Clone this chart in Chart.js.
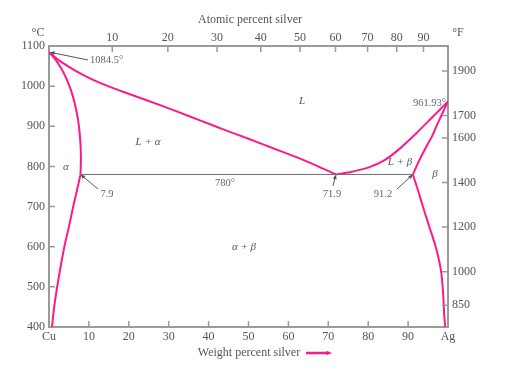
<!DOCTYPE html>
<html>
<head>
<meta charset="utf-8">
<script src="https://cdn.jsdelivr.net/npm/chart.js@4.4.0/dist/chart.umd.min.js"></script>
<style>
  html, body { margin: 0; padding: 0; background: #fff; }
</style>
</head>
<body>
<canvas id="grafico" width="517" height="372"></canvas>
<script>
// ===============================
//   DADOS (wt% Ag, °C)
// ===============================
const liquidusCuWt = [0, 2, 5, 8.5, 12.75, 18, 25, 32, 38, 44, 50, 56, 62, 67, 71.9];
const liquidusCuT  = [1084.5, 1068, 1048, 1028, 1008, 988, 963, 937, 914, 891, 869, 846, 823, 802, 780];

const liquidusAgWt = [71.9, 76, 80, 84, 88, 92, 96, 100];
const liquidusAgT  = [780, 787, 797, 815, 845, 882, 922, 961.93];

const solidusAlfaWt = [0, 1.5, 3, 4.3, 5.5, 6.5, 7.3, 7.8, 8.0, 7.9];
const solidusAlfaT  = [1084.5, 1068, 1045, 1020, 990, 955, 915, 870, 825, 780];

const solvusAlfaWt = [7.9, 7, 6, 5, 4, 3, 2, 1.3, 0.75];
const solvusAlfaT  = [780, 740, 697, 650, 607, 555, 497, 450, 400];

const solidusBetaWt = [91.2, 92.8, 94.5, 96, 97, 98.5, 100];
const solidusBetaT  = [780, 815, 848, 875, 898, 930, 961.93];

const solvusBetaWt = [91.2, 92.5, 93.5, 95.3, 97, 98.25, 98.8, 99.05, 99.3];
const solvusBetaT  = [780, 740, 707, 650, 597, 540, 480, 430, 400];

const eutecticoWt = [7.9, 91.2];
const eutecticoT  = [780, 780];

// eixos
const ticksPeso     = [0, 10, 20, 30, 40, 50, 60, 70, 80, 90, 100];
const ticksAtomico  = [10, 20, 30, 40, 50, 60, 70, 80, 90];
const ticksCelsius  = [400, 500, 600, 700, 800, 900, 1000, 1100];
const ticksFahr     = [850, 1000, 1200, 1400, 1600, 1700, 1900];

const MASSA_AG = 107.87, MASSA_CU = 63.55;
const FONTE = "'Liberation Serif', 'DejaVu Serif', serif";
const ROSA = "#fb1a8c";
const CINZA_EIXO = "#9a9a9a";
const CINZA_TEXTO = "#555";

const atomicoParaPeso = (a) => 100 * a * MASSA_AG / (a * MASSA_AG + (100 - a) * MASSA_CU);
const fParaC = (f) => (f - 32) * 5 / 9;
const pontos = (xs, ys) => xs.map((x, i) => ({ x: x, y: ys[i] }));

function curva(xs, ys, cor, larg, tensao) {
  return {
    data: pontos(xs, ys),
    borderColor: cor,
    borderWidth: larg,
    pointRadius: 0,
    showLine: true,
    tension: tensao,
    fill: false,
    xAxisID: "x",
    yAxisID: "y"
  };
}

// ===============================
//   PLUGINS
// ===============================
const ticksParaDentro = {
  id: "ticksParaDentro",
  afterDatasetsDraw(chart) {
    const { ctx, chartArea: ca, scales } = chart;
    const L = 6;
    ctx.save();
    ctx.strokeStyle = CINZA_EIXO;
    ctx.lineWidth = 1.5;
    ctx.beginPath();
    ticksPeso.filter(v => v > 0 && v < 100).forEach(v => {
      const px = scales.x.getPixelForValue(v);
      ctx.moveTo(px, ca.bottom); ctx.lineTo(px, ca.bottom - L);
    });
    ticksAtomico.forEach(a => {
      const px = scales.xTop.getPixelForValue(atomicoParaPeso(a));
      ctx.moveTo(px, ca.top); ctx.lineTo(px, ca.top + L);
    });
    ticksCelsius.filter(v => v > 400 && v < 1100).forEach(v => {
      const py = scales.y.getPixelForValue(v);
      ctx.moveTo(ca.left, py); ctx.lineTo(ca.left + L, py);
    });
    ticksFahr.forEach(f => {
      const py = scales.yF.getPixelForValue(fParaC(f));
      ctx.moveTo(ca.right, py); ctx.lineTo(ca.right - L, py);
    });
    ctx.stroke();
    ctx.restore();
  }
};

function seta(ctx, x1, y1, x2, y2, cor, larg, tam) {
  const ang = Math.atan2(y2 - y1, x2 - x1);
  ctx.strokeStyle = cor;
  ctx.fillStyle = cor;
  ctx.lineWidth = larg;
  ctx.beginPath();
  ctx.moveTo(x1, y1);
  ctx.lineTo(x2 - Math.cos(ang) * tam * 0.6, y2 - Math.sin(ang) * tam * 0.6);
  ctx.stroke();
  ctx.beginPath();
  ctx.moveTo(x2, y2);
  ctx.lineTo(x2 - tam * Math.cos(ang - 0.4), y2 - tam * Math.sin(ang - 0.4));
  ctx.lineTo(x2 - tam * Math.cos(ang + 0.4), y2 - tam * Math.sin(ang + 0.4));
  ctx.closePath();
  ctx.fill();
}

const anotacoes = {
  id: "anotacoes",
  afterDraw(chart) {
    const { ctx, scales } = chart;
    const px = (wt) => scales.x.getPixelForValue(wt);
    const py = (t) => scales.y.getPixelForValue(t);

    ctx.save();
    ctx.textBaseline = "middle";

    // textos numericos
    ctx.fillStyle = "#666";
    ctx.font = "10.5px " + FONTE;
    ctx.textAlign = "left";
    ctx.fillText("1084.5°", 90, 60);
    ctx.textAlign = "right";
    ctx.fillText("961.93°", 446, 103);
    ctx.textAlign = "center";
    ctx.fillText("7.9", 107, 194);
    ctx.fillText("71.9", 332, 194);
    ctx.fillText("91.2", 383, 194);
    ctx.fillText("780°", 225, 183);

    // setas
    seta(ctx, 88, 60, px(0) + 1, py(1084.5), "#555", 1, 5);
    seta(ctx, 98, 189, px(7.9), py(780), "#555", 1, 5);
    seta(ctx, 333, 186, px(71.9), py(780), "#555", 1, 5);
    seta(ctx, 397, 189, px(91.2), py(780), "#555", 1, 5);

    // fases
    ctx.font = "italic 11px " + FONTE;
    ctx.fillText("L", 302, 101);
    ctx.fillText("L + α", 148, 142);
    ctx.fillText("α", 66, 167);
    ctx.fillText("L + β", 400, 162);
    ctx.fillText("β", 435, 174);
    ctx.fillText("α + β", 244, 247);

    // unidades e titulos
    ctx.fillStyle = CINZA_TEXTO;
    ctx.font = "12px " + FONTE;
    ctx.fillText("°C", 38, 33);
    ctx.fillText("°F", 458, 33);
    ctx.fillText("Atomic percent silver", 250, 20);
    ctx.fillText("Weight percent silver", 249, 353);
    seta(ctx, 306, 353, 332, 353, ROSA, 2.5, 6);

    ctx.restore();
  }
};

// ===============================
//   GRAFICO
// ===============================
const datasets = [
  curva(eutecticoWt, eutecticoT, "#6e6e6e", 1, 0),
  curva(liquidusCuWt, liquidusCuT, ROSA, 2, 0.3),
  curva(liquidusAgWt, liquidusAgT, ROSA, 2, 0.3),
  curva(solidusAlfaWt, solidusAlfaT, ROSA, 2, 0.3),
  curva(solvusAlfaWt, solvusAlfaT, ROSA, 2, 0.3),
  curva(solidusBetaWt, solidusBetaT, ROSA, 2, 0.3),
  curva(solvusBetaWt, solvusBetaT, ROSA, 2, 0.3)
];

const fonteTicks = { family: FONTE, size: 12 };
const semGrade = { display: false, drawTicks: false };

new Chart(document.getElementById("grafico"), {
  type: "scatter",
  data: { datasets: datasets },
  options: {
    responsive: false,
    devicePixelRatio: 1,
    animation: false,
    layout: { padding: 0 },
    plugins: { legend: { display: false }, tooltip: { enabled: false } },
    scales: {
      x: {
        type: "linear", position: "bottom", min: 0, max: 100,
        afterBuildTicks: (s) => { s.ticks = ticksPeso.map(v => ({ value: v })); },
        afterFit: (s) => { s.height = 45; },
        ticks: {
          autoSkip: false, maxRotation: 0, padding: 3, color: CINZA_TEXTO, font: fonteTicks,
          callback: (v) => v === 0 ? "Cu" : (v === 100 ? "Ag" : String(v))
        },
        grid: semGrade,
        border: { color: CINZA_EIXO, width: 2 }
      },
      xTop: {
        type: "linear", position: "top", min: 0, max: 100,
        afterBuildTicks: (s) => { s.ticks = ticksAtomico.map(a => ({ value: atomicoParaPeso(a) })); },
        afterFit: (s) => { s.height = 46; },
        ticks: {
          autoSkip: false, maxRotation: 0, padding: 1, color: CINZA_TEXTO, font: fonteTicks,
          callback: (v, i) => String(ticksAtomico[i])
        },
        grid: semGrade,
        border: { color: CINZA_EIXO, width: 2 }
      },
      y: {
        type: "linear", position: "left", min: 400, max: 1100,
        afterBuildTicks: (s) => { s.ticks = ticksCelsius.map(v => ({ value: v })); },
        afterFit: (s) => { s.width = 49; },
        ticks: {
          autoSkip: false, padding: 4, color: CINZA_TEXTO, font: fonteTicks,
          callback: (v) => String(v)
        },
        grid: semGrade,
        border: { color: CINZA_EIXO, width: 2 }
      },
      yF: {
        type: "linear", position: "right", min: 400, max: 1100,
        afterBuildTicks: (s) => { s.ticks = ticksFahr.map(f => ({ value: fParaC(f) })); },
        afterFit: (s) => { s.width = 69; },
        ticks: {
          autoSkip: false, padding: 4, color: CINZA_TEXTO, font: fonteTicks,
          callback: (v, i) => String(ticksFahr[i])
        },
        grid: semGrade,
        border: { color: CINZA_EIXO, width: 2 }
      }
    }
  },
  plugins: [ticksParaDentro, anotacoes]
});
</script>
</body>
</html>
